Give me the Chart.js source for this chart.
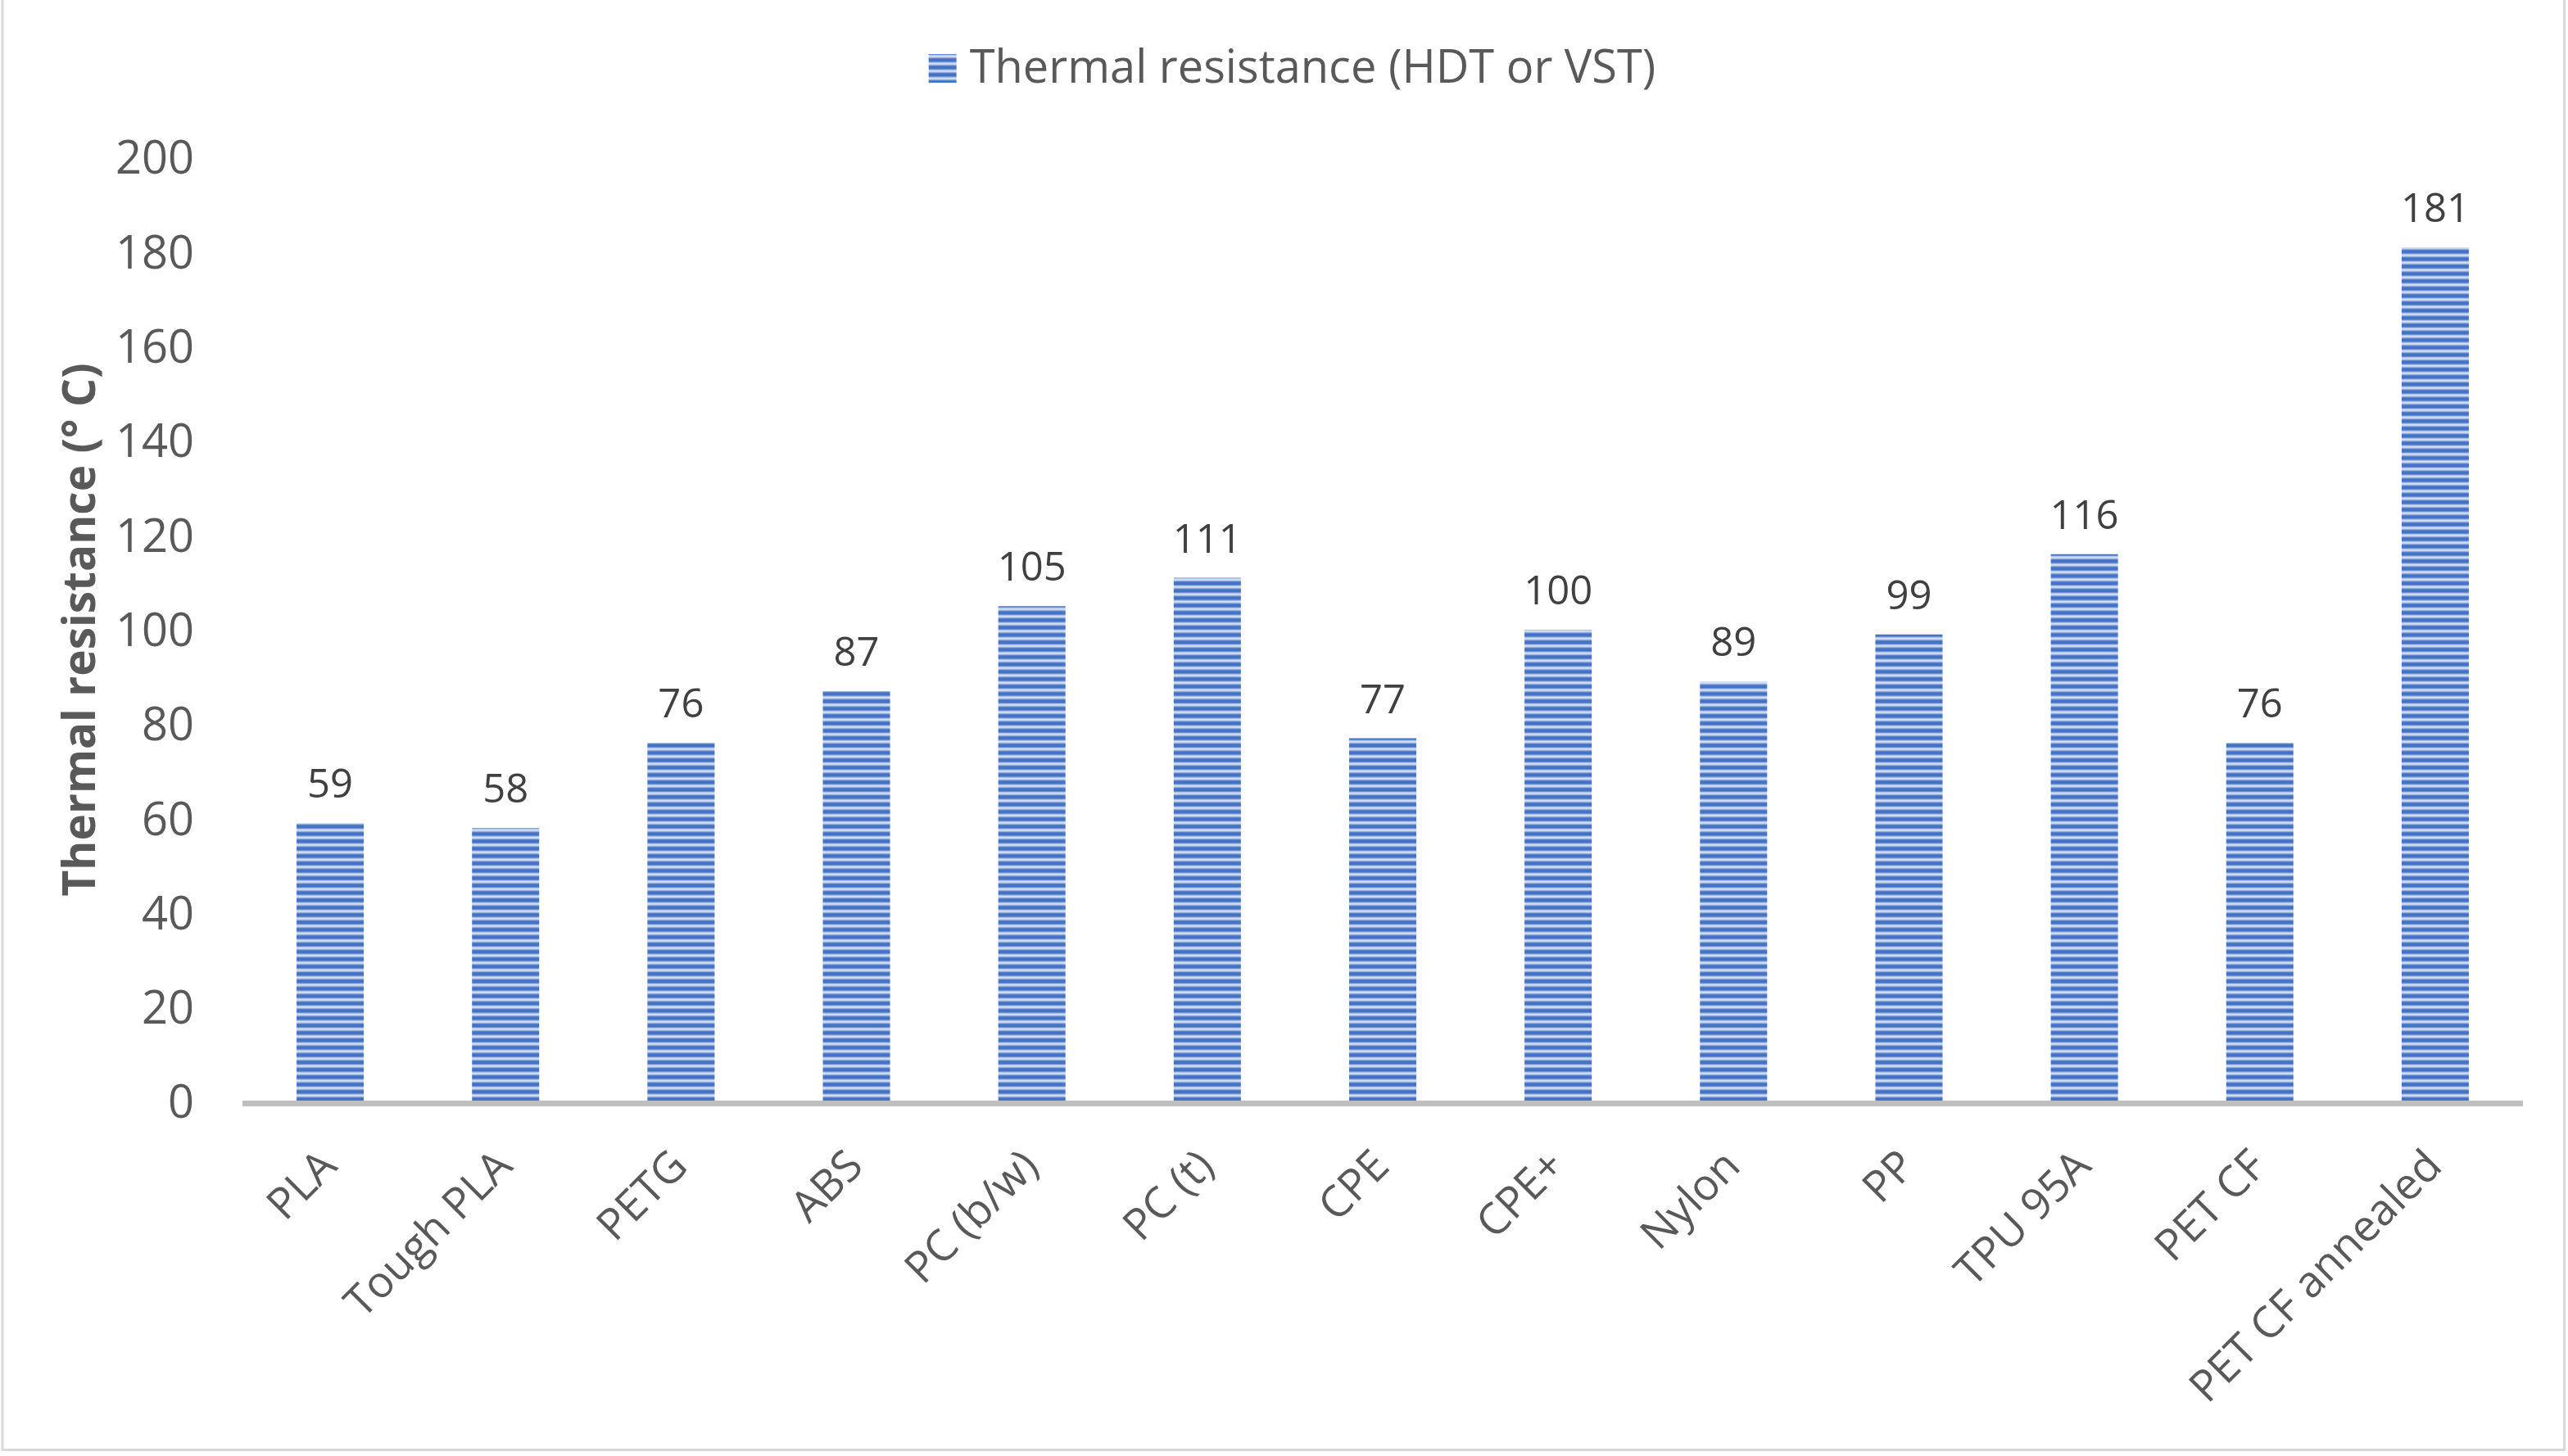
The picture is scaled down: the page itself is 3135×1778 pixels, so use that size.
<!DOCTYPE html>
<html>
<head>
<meta charset="utf-8">
<script src="https://cdn.jsdelivr.net/npm/chart.js@4.4.1/dist/chart.umd.min.js"></script>
<style>
  html, body { margin: 0; padding: 0; background: #ffffff; }
  #wrap { width: 3135px; height: 1778px; position: relative; }
  canvas { display: block; }
</style>
</head>
<body>
<div id="wrap"><canvas id="chart" width="3135" height="1778"></canvas></div>
<script>
// ---- Data ----
const categories = ['PLA', 'Tough PLA', 'PETG', 'ABS', 'PC (b/w)', 'PC (t)', 'CPE', 'CPE+', 'Nylon', 'PP', 'TPU 95A', 'PET CF', 'PET CF annealed'];
const thermalResistance = [59, 58, 76, 87, 105, 111, 77, 100, 89, 99, 116, 76, 181];
const seriesName = 'Thermal resistance (HDT or VST)';
const yAxisTitle = 'Thermal resistance (° C)';
const yTickValues = [0, 20, 40, 60, 80, 100, 120, 140, 160, 180, 200];

// ---- Striped fill pattern (Excel "narrow horizontal" look) ----
function makePattern() {
  const c = document.createElement('canvas');
  c.width = 4; c.height = 9;
  const g = c.getContext('2d');
  const rows = ['#4472c4', '#4472c4', '#4472c4', '#6c90d1', '#a9bfe6', '#d4def2', '#c4d3ee', '#93aedf', '#5a82cb'];
  rows.forEach((col, i) => { g.fillStyle = col; g.fillRect(0, i, 4, 1); });
  return g.createPattern(c, 'repeat');
}
const stripe = makePattern();

const FONT = '"Open Sans", "Noto Sans", sans-serif';
const TEXT_GRAY = '#595959';

const backgroundPlugin = {
  id: 'bgBorder',
  beforeDraw(chart) {
    const ctx = chart.ctx;
    ctx.save();
    ctx.fillStyle = '#ffffff';
    ctx.fillRect(0, 0, chart.width, chart.height);
    ctx.strokeStyle = '#d9d9d9';
    ctx.lineWidth = 3;
    ctx.beginPath();
    ctx.moveTo(3, 0); ctx.lineTo(3, 1770.5);
    ctx.lineTo(3130.5, 1770.5); ctx.lineTo(3130.5, 0);
    ctx.stroke();
    ctx.restore();
  }
};

const axisLinePlugin = {
  id: 'axisLine',
  afterDatasetsDraw(chart) {
    const { ctx, chartArea } = chart;
    ctx.save();
    ctx.strokeStyle = '#bfbfbf';
    ctx.lineWidth = 7;
    ctx.beginPath();
    ctx.moveTo(chartArea.left, chartArea.bottom + 2);
    ctx.lineTo(chartArea.right, chartArea.bottom + 2);
    ctx.stroke();
    ctx.restore();
  }
};

const dataLabelPlugin = {
  id: 'dataLabels',
  afterDatasetsDraw(chart) {
    const ctx = chart.ctx;
    const meta = chart.getDatasetMeta(0);
    const data = chart.data.datasets[0].data;
    ctx.save();
    ctx.font = '49px ' + FONT;
    ctx.fillStyle = '#404040';
    ctx.textAlign = 'center';
    ctx.textBaseline = 'alphabetic';
    meta.data.forEach((bar, i) => {
      ctx.fillText(String(data[i]), bar.x, bar.y - 31);
    });
    ctx.restore();
  }
};

const legendPlugin = {
  id: 'customLegend',
  afterDraw(chart) {
    const ctx = chart.ctx;
    const label = chart.data.datasets[0].label;
    ctx.save();
    ctx.font = '56px ' + FONT;
    const tw = ctx.measureText(label).width;
    const box = 34, gap = 16;
    const total = box + gap + tw;
    const x0 = chart.width / 2 - total / 2 + 10;
    ctx.fillStyle = stripe;
    ctx.fillRect(x0, 66, box, 35);
    ctx.fillStyle = TEXT_GRAY;
    ctx.textAlign = 'left';
    ctx.textBaseline = 'alphabetic';
    ctx.fillText(label, x0 + box + gap, 101);
    ctx.restore();
  }
};

new Chart(document.getElementById('chart'), {
  type: 'bar',
  data: {
    labels: categories,
    datasets: [{
      label: seriesName,
      data: thermalResistance,
      backgroundColor: stripe,
      borderWidth: 0,
      barPercentage: 0.383,
      categoryPercentage: 1.0
    }]
  },
  options: {
    responsive: false,
    devicePixelRatio: 1,
    animation: false,
    layout: { padding: { left: 0, right: 55, top: 192.5, bottom: 0 } },
    plugins: {
      legend: { display: false },
      tooltip: { enabled: false }
    },
    scales: {
      x: {
        grid: { display: false, drawTicks: false },
        border: { display: false },
        ticks: {
          autoSkip: false,
          minRotation: 45,
          maxRotation: 45,
          padding: 48,
          color: TEXT_GRAY,
          font: { family: FONT, size: 53 }
        },
        afterFit(scale) { scale.height = 432.5; }
      },
      y: {
        min: 0,
        max: 200,
        grid: { display: false, drawTicks: false },
        border: { display: false },
        afterBuildTicks(scale) { scale.ticks = yTickValues.map(v => ({ value: v })); },
        ticks: {
          padding: 59,
          labelOffset: 4,
          color: TEXT_GRAY,
          font: { family: FONT, size: 56 }
        },
        title: {
          display: true,
          text: yAxisTitle,
          color: TEXT_GRAY,
          font: { family: FONT, size: 55, weight: 'bold' },
          padding: { top: 67, bottom: 0 }
        },
        afterFit(scale) { scale.width = 296; }
      }
    }
  },
  plugins: [backgroundPlugin, axisLinePlugin, dataLabelPlugin, legendPlugin]
});
</script>
</body>
</html>
